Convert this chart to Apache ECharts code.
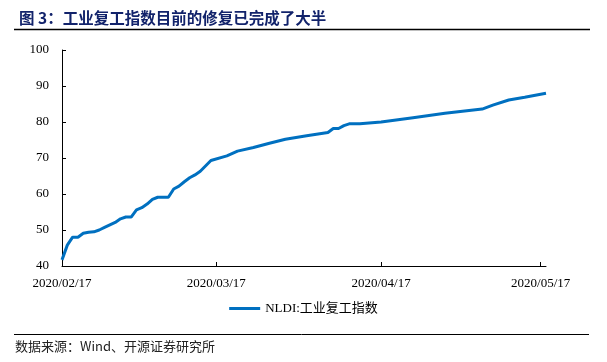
<!DOCTYPE html>
<html>
<head>
<meta charset="utf-8">
<script src="https://cdn.jsdelivr.net/npm/echarts@6/dist/echarts.min.js"></script>
<style>html,body{margin:0;padding:0;background:#fff}#c{width:607px;height:362px}</style>
</head>
<body>
<div id="c"></div>
<script>
const titleText = '图 3：工业复工指数目前的修复已完成了大半';
const sourceText = '数据来源：Wind、开源证券研究所';
const seriesName = 'NLDI:工业复工指数';
const dates = ['2020-02-17','2020-02-18','2020-02-19','2020-02-20','2020-02-21','2020-02-22','2020-02-23','2020-02-24','2020-02-25','2020-02-26','2020-02-27','2020-02-28','2020-02-29','2020-03-01','2020-03-02','2020-03-03','2020-03-04','2020-03-05','2020-03-06','2020-03-08','2020-03-09','2020-03-10','2020-03-11','2020-03-12','2020-03-13','2020-03-14','2020-03-16','2020-03-19','2020-03-21','2020-03-24','2020-03-27','2020-03-30','2020-04-03','2020-04-07','2020-04-08','2020-04-09','2020-04-10','2020-04-11','2020-04-13','2020-04-17','2020-04-23','2020-04-29','2020-05-06','2020-05-08','2020-05-11','2020-05-14','2020-05-18'];
const values = [41.7,45.8,48.0,48.0,49.1,49.4,49.5,50.0,50.7,51.4,52.1,53.1,53.6,53.6,55.6,56.2,57.2,58.5,59.1,59.1,61.4,62.2,63.4,64.5,65.3,66.3,69.3,70.6,71.9,72.9,74.1,75.2,76.2,77.1,78.2,78.2,79.0,79.5,79.5,80.0,81.2,82.4,83.6,84.7,86.1,86.9,88.0];
const xTickDates = ['2020-02-17','2020-03-17','2020-04-17','2020-05-17'];
const xMin = '2020-02-17', xMax = '2020-05-18';
const yMin = 40, yMax = 100, yInterval = 10;

const ts = d => new Date(d + 'T00:00:00Z').getTime();
const fmt = v => { const d = new Date(v); return d.getUTCFullYear() + '/' + String(d.getUTCMonth()+1).padStart(2,'0') + '/' + String(d.getUTCDate()).padStart(2,'0'); };
const serif = '"Liberation Serif","Times New Roman","Noto Sans CJK SC",serif';
const chart = echarts.init(document.getElementById('c'), null, {renderer:'canvas'});
chart.setOption({
  animation:false,
  textStyle:{fontFamily:serif},
  title:{
    text:titleText, left:14, top:5,
    textStyle:{fontSize:15.5, fontWeight:'bold', color:'#12236b', fontFamily:'"Noto Sans CJK SC",sans-serif'}
  },
  graphic:[
    {type:'line', shape:{x1:14,y1:29.5,x2:590,y2:29.5}, style:{stroke:'#000',lineWidth:1.5}},
    {type:'line', shape:{x1:14,y1:334.5,x2:589,y2:334.5}, style:{stroke:'#000',lineWidth:1}},
    {type:'text', left:15, top:340, style:{text:sourceText, fontSize:13, fill:'#222', fontFamily:'"Noto Sans CJK SC",sans-serif'}}
  ],
  grid:{left:62, right:61, top:50, bottom:96, containLabel:false},
  legend:{
    bottom:42, left:'center',
    icon:'rect', itemWidth:31, itemHeight:3, itemGap:4,
    textStyle:{fontSize:13, color:'#000', fontFamily:serif},
    data:[seriesName]
  },
  xAxis:{
    type:'value', min:ts(xMin), max:ts(xMax), scale:true,
    axisLine:{lineStyle:{color:'#000',width:1}},
    axisTick:{show:true, inside:true, length:4, customValues:xTickDates.map(ts), lineStyle:{color:'#000'}},
    axisLabel:{customValues:xTickDates.map(ts), color:'#000', fontSize:13, margin:11, fontFamily:serif, formatter:fmt},
    splitLine:{show:false}
  },
  yAxis:{
    type:'value', min:yMin, max:yMax, interval:yInterval,
    axisLine:{show:true, lineStyle:{color:'#000',width:1}},
    axisTick:{show:true, inside:true, length:4, lineStyle:{color:'#000'}},
    axisLabel:{color:'#000', fontSize:13, margin:13, fontFamily:serif},
    splitLine:{show:false}
  },
  series:[{
    name:seriesName, type:'line', showSymbol:false, symbol:'none',
    lineStyle:{color:'#0070C0', width:3},
    itemStyle:{color:'#0070C0'},
    data:dates.map((d,i)=>[ts(d), values[i]])
  }]
});
</script>
</body>
</html>
